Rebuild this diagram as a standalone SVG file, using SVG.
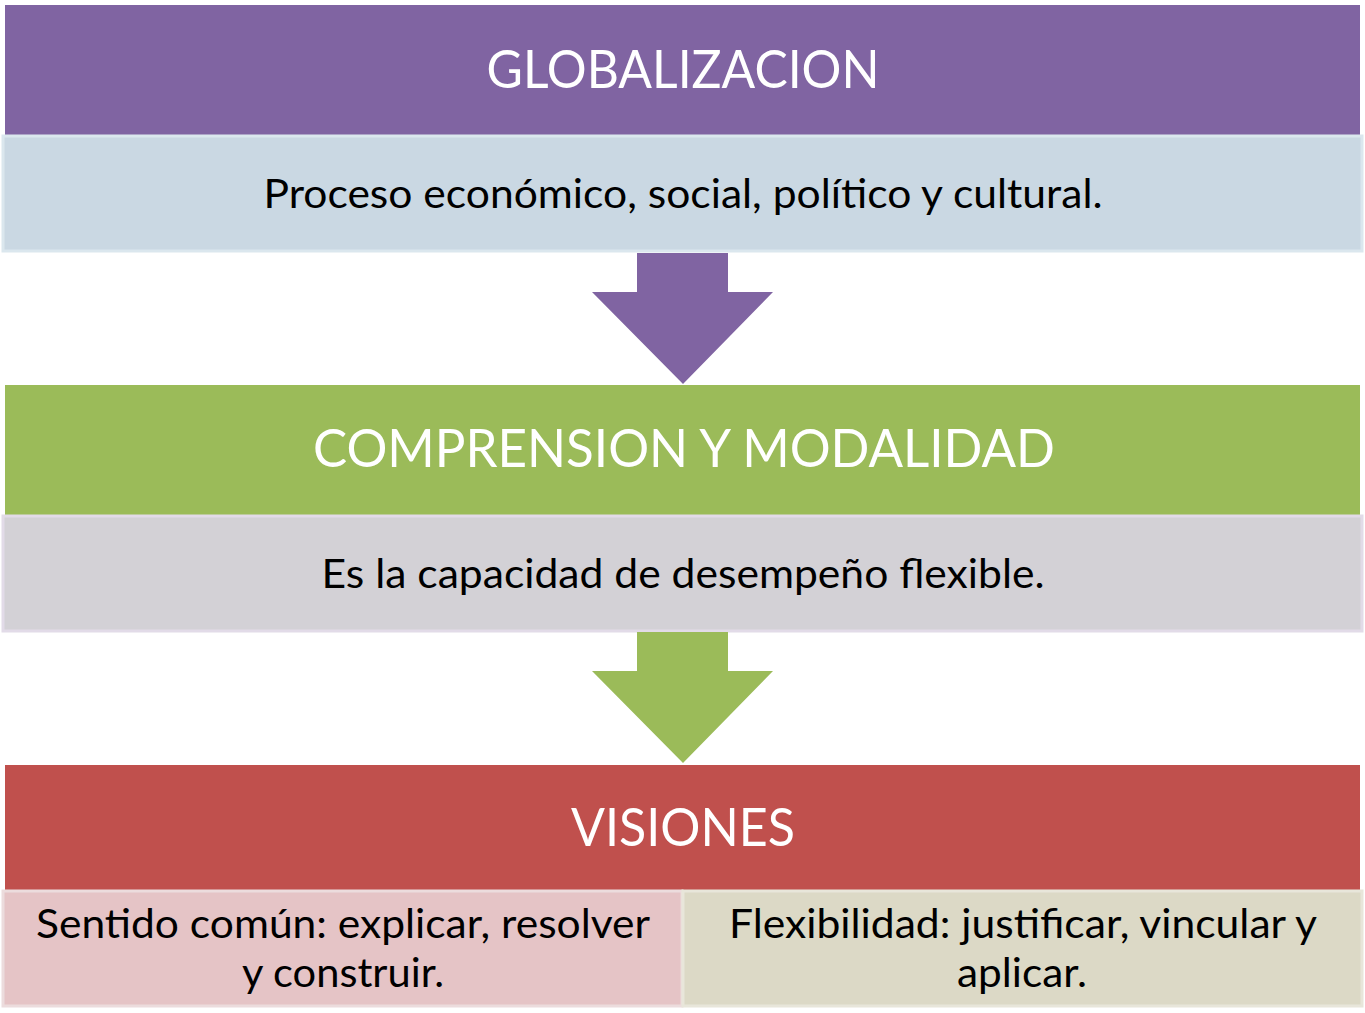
<svg xmlns="http://www.w3.org/2000/svg" width="1365" height="1013" viewBox="0 0 1365 1013">
<style>
.t{font-family:Lato,"Open Sans","Noto Sans",sans-serif;text-anchor:middle}
.h{fill:#fff;font-size:52px}
.b{fill:#000;font-size:40px}
.box{stroke-width:3}
</style>
<rect width="1365" height="1013" fill="#fff"/>
<g id="n1"><rect x="5" y="5" width="1355" height="130" fill="#8064a2"/><text class="t h" x="683" y="88" textLength="393" lengthAdjust="spacingAndGlyphs">GLOBALIZACION</text></g>
<g id="n2"><rect class="box" x="3" y="136" width="1359" height="115" fill="#cad8e3" stroke="#dbe7ee"/><text class="t b" x="683" y="208" textLength="839" lengthAdjust="spacingAndGlyphs">Proceso económico, social, político y cultural.</text></g>
<g id="n3"><rect x="5" y="385" width="1355" height="130" fill="#9bbb59"/><text class="t h" x="684" y="467" textLength="742" lengthAdjust="spacingAndGlyphs">COMPRENSION Y MODALIDAD</text></g>
<g id="n4"><rect class="box" x="3" y="516" width="1359" height="115" fill="#d3d1d6" stroke="#e2dbe8"/><text class="t b" x="683" y="588" textLength="723" lengthAdjust="spacingAndGlyphs">Es la capacidad de desempeño flexible.</text></g>
<g id="n5"><rect x="5" y="765" width="1355" height="125" fill="#c0504d"/><text class="t h" x="683" y="846" textLength="224" lengthAdjust="spacingAndGlyphs">VISIONES</text></g>
<g id="n6"><rect class="box" x="3" y="891" width="679" height="115" fill="#e5c4c6" stroke="#ecdcdd"/><text class="t b" x="343" y="938" textLength="614" lengthAdjust="spacingAndGlyphs">Sentido común: explicar, resolver</text><text class="t b" x="343" y="987" textLength="202" lengthAdjust="spacingAndGlyphs">y construir.</text></g>
<g id="n7"><rect class="box" x="683" y="891" width="679" height="115" fill="#dcd9c6" stroke="#e8e6da"/><text class="t b" x="1023" y="938" textLength="588" lengthAdjust="spacingAndGlyphs">Flexibilidad: justificar, vincular y</text><text class="t b" x="1022" y="987" textLength="130" lengthAdjust="spacingAndGlyphs">aplicar.</text></g>
<g id="connectors">
<polygon points="637,253 728,253 728,292 773,292 683,384 592,292 637,292" fill="#8064a2"/>
<polygon points="637,632 728,632 728,671 773,671 683,763 592,671 637,671" fill="#9bbb59"/>
</g>
</svg>
